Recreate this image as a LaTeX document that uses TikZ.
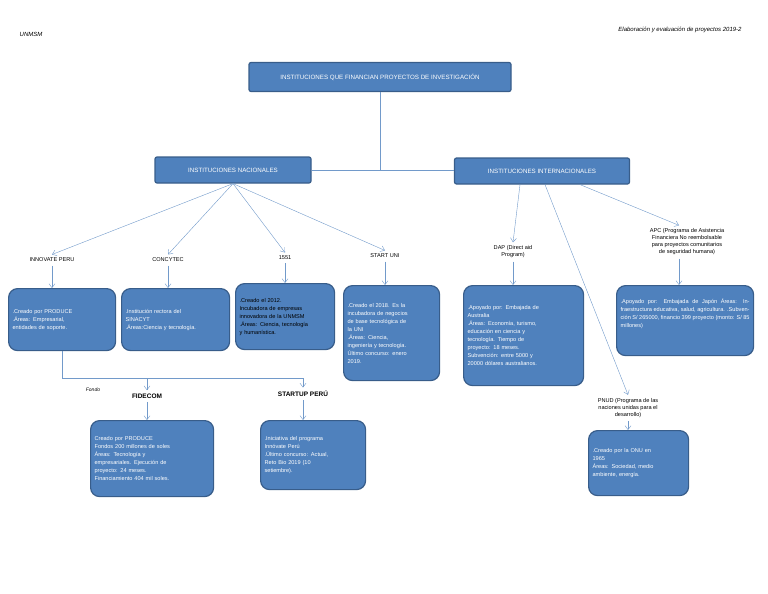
\documentclass[tikz,border=0pt]{standalone}
\usepackage{fontspec}
\setmainfont{Liberation Sans}
\usetikzlibrary{arrows.meta}
\definecolor{boxblue}{HTML}{4F81BD}
\definecolor{boxline}{HTML}{385D8A}
\tikzset{
	caja/.style={draw=boxline,line width=1.2pt,fill=boxblue,rounded corners=9pt,text=white,align=left,inner sep=4pt,font=\fontsize{5.6}{8}\selectfont},
	titulo/.style={draw=boxline,line width=1.2pt,fill=boxblue,rounded corners=2pt,text=white,align=center,font=\fontsize{6.2}{8}\selectfont},
	etiq/.style={align=center,font=\fontsize{5.6}{7}\selectfont},
	flecha/.style={-{Straight Barb[length=4pt,width=6pt]},draw=boxblue!80}
}
\begin{document}
\begin{tikzpicture}[x=1pt,y=-1pt]
	\useasboundingbox (0,0) rectangle (768,594);
	% encabezado
	\node[font=\fontsize{6}{7}\selectfont\itshape] (unmsm) at (31,34) {UNMSM};
	\node[font=\fontsize{6}{7}\selectfont\itshape] (curso) at (680,30) {Elaboración y evaluación de proyectos 2019-2};
	% titulos
	\node[titulo,minimum width=262,minimum height=29] (raiz) at (380,77) {INSTITUCIONES QUE FINANCIAN PROYECTOS DE INVESTIGACIÓN};
	\node[titulo,minimum width=156,minimum height=26] (nac) at (233,170) {INSTITUCIONES NACIONALES};
	\node[titulo,minimum width=175,minimum height=26] (int) at (542,171) {INSTITUCIONES INTERNACIONALES};
	\coordinate (cruce) at (380,170);
	\draw[boxblue!80] (raiz.south) -- (cruce) (nac.east) -- (int.west|-cruce);
	% nacionales
	\node[etiq] (innov) at (52,260) {INNOVATE PERU};
	\node[etiq] (concy) at (168,260) {CONCYTEC};
	\node[etiq] (l1551) at (285,258) {1551};
	\node[etiq] (suni) at (385,256) {START UNI};
	\foreach \n in {innov,concy,l1551,suni}
		\draw[flecha] (nac.south) -- (\n.north);
	\node[caja,text width=99,minimum height=62,anchor=north west] (b1) at (8,288) {.Creado por PRODUCE\\ .Áreas: Empresarial,\\ entidades de soporte.\\[12pt]};
	\node[caja,text width=100,minimum height=62,anchor=north west] (b2) at (121,288) {.Institución rectora del\\ SINACYT\\ .Áreas:Ciencia y tecnología.\\[12pt]};
	\node[caja,text width=91,minimum height=66,anchor=north west,text=black] (b3) at (235,283) {.Creado el 2012.\\ Incubadora de empresas\\ innovadora de la UNMSM\\ .Áreas: Ciencia, tecnología\\ y humanística.\\[8pt]};
	\node[caja,text width=88,minimum height=95,anchor=north west] (b4) at (343,285) {.Creado el 2018. Es la\\ incubadora de negocios\\ de base tecnológica de\\ la UNI\\ .Áreas: Ciencia,\\ ingeniería y tecnología.\\ Último concurso: enero\\ 2019.};
	\draw[flecha] (innov.south) -- (innov.south|-b1.north);
	\draw[flecha] (concy.south) -- (concy.south|-b2.north);
	\draw[flecha] (l1551.south) -- (l1551.south|-b3.north);
	\draw[flecha] (suni.south) -- (suni.south|-b4.north);
	% fondos
	\node[font=\fontsize{5}{6}\selectfont\itshape] (fondo) at (93,390) {Fondo};
	\node[font=\fontsize{6.5}{8}\selectfont\bfseries] (fide) at (147,396) {FIDECOM};
	\node[font=\fontsize{6.5}{8}\selectfont\bfseries] (speru) at (303,394) {STARTUP PERÚ};
	\coordinate (baja) at (62,378);
	\draw[boxblue!80] (b1.south-|baja) -- (baja) -- (speru.north|-baja);
	\draw[flecha] (fide.north|-baja) -- (fide.north);
	\draw[flecha] (speru.north|-baja) -- (speru.north);
	\node[caja,text width=115,minimum height=76,anchor=north west] (b5) at (90,420) {Creado por PRODUCE\\ Fondos 200 millones de soles\\ Áreas: Tecnología y\\ empresariales. Ejecución de\\ proyecto: 24 meses.\\ Financiamiento 404 mil soles.};
	\node[caja,text width=97,minimum height=69,anchor=north west] (b6) at (260,420) {.Iniciativa del programa\\ Innóvate Perú\\ .Último concurso: Actual,\\ Reto Bio 2019 (10\\ setiembre).\\[6pt]};
	\draw[flecha] (fide.south) -- (fide.south|-b5.north);
	\draw[flecha] (speru.south) -- (speru.south|-b6.north);
	% internacionales
	\node[etiq] (dap) at (513,252) {DAP (Direct aid\\ Program)};
	\node[etiq] (apc) at (687,242) {APC (Programa de Asistencia\\ Financiera No reembolsable\\ para proyectos comunitarios\\ de seguridad humana)};
	\node[etiq] (pnud) at (628,408) {PNUD (Programa de las\\ naciones unidas para el\\ desarrollo)};
	\draw[flecha] ([xshift=-22pt]int.south) -- (dap.north);
	\draw[flecha] ([xshift=38pt]int.south) -- ([xshift=-8pt]apc.north);
	\draw[flecha] ([xshift=3pt]int.south) -- (pnud.north);
	\node[caja,text width=112,minimum height=100,anchor=north west] (b7) at (463,285) {.Apoyado por: Embajada de\\ Australia\\ .Áreas: Economía, turismo,\\ educación en ciencia y\\ tecnología. Tiempo de\\ proyecto: 18 meses.\\ Subvención: entre 5000 y\\ 20000 dólares australianos.};
	\node[caja,text width=129,minimum height=70,anchor=north west,align=justify] (b8) at (616,285) {.Apoyado por: Embajada de Japón Áreas: Infraestructura educativa, salud, agricultura. .Subvención S/ 265000, financio 399 proyecto (monto: S/ 85 millones)\\[8pt]};
	\node[caja,text width=92,minimum height=65,anchor=north west] (b9) at (588,430) {.Creado por la ONU en\\ 1965\\ Áreas: Sociedad, medio\\ ambiente, energía.\\[8pt]};
	\draw[flecha] (dap.south) -- (dap.south|-b7.north);
	\draw[flecha] ([xshift=-8pt]apc.south) -- ([xshift=-8pt]apc.south|-b8.north);
	\draw[flecha] (pnud.south) -- (pnud.south|-b9.north);
\end{tikzpicture}
\end{document}
